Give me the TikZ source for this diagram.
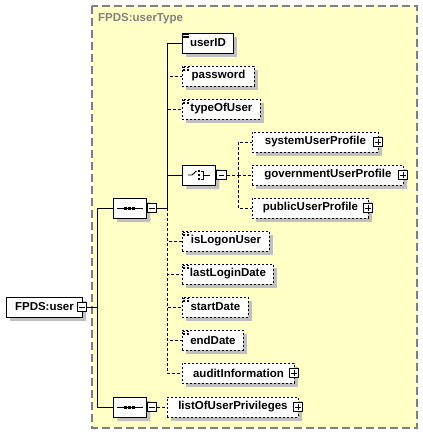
\documentclass[tikz,border=0pt]{standalone}
\usepackage{fontspec}
\setmainfont{Liberation Sans}
\usetikzlibrary{shapes.misc}
\definecolor{typebg}{RGB}{255,255,198}
\definecolor{typeborder}{RGB}{128,128,128}
\definecolor{shade}{RGB}{192,192,192}
\begin{document}
\begin{tikzpicture}[x=1pt, y=-1pt,
    shadowed/.style={preaction={draw=none, fill=shade, transform canvas={xshift=4pt, yshift=-4pt}}},
    elem/.style={rectangle, draw, fill=white, line width=0.9pt, shadowed, anchor=west, minimum width=#1, minimum height=20pt, inner sep=0pt, font=\fontsize{11.5}{13}\selectfont\bfseries},
    optional/.style={dash pattern=on 2pt off 2pt},
    simple/.style={path picture={
        \draw[line width=0.7pt] ([xshift=1pt, yshift=-1.5pt]path picture bounding box.north west) -- ++(6,0);
        \draw[line width=0.7pt] ([xshift=1pt, yshift=-3pt]path picture bounding box.north west) -- ++(6,0);
        \draw[line width=0.7pt] ([xshift=1pt, yshift=-4.5pt]path picture bounding box.north west) -- ++(6,0);}},
    compositor/.style={chamfered rectangle, chamfered rectangle angle=45, chamfered rectangle xsep=5.5pt, draw, fill=white, line width=0.9pt, shadowed, anchor=west, minimum width=33pt, minimum height=20pt, inner sep=0pt},
    pmbox/.style={rectangle, draw, fill=white, line width=0.9pt, minimum size=9.5pt, inner sep=0pt},
    minus/.style={pmbox, path picture={\draw[line width=0.8pt] ([xshift=2pt]path picture bounding box.west) -- ([xshift=-2pt]path picture bounding box.east);}},
    plus/.style={pmbox, path picture={
        \draw[line width=0.8pt] ([xshift=2pt]path picture bounding box.west) -- ([xshift=-2pt]path picture bounding box.east);
        \draw[line width=0.8pt] ([yshift=-2pt]path picture bounding box.north) -- ([yshift=2pt]path picture bounding box.south);}},
    link/.style={line width=0.9pt},
    optlink/.style={link, dash pattern=on 3pt off 2pt}
]
\useasboundingbox[fill=white] (0,0) rectangle (423,434);

% complex type frame
\draw[typeborder, fill=typebg, line width=1.3pt, dash pattern=on 8pt off 4pt] (92,6) rectangle (417,428);
\node[anchor=west, inner sep=0pt, text=typeborder, font=\fontsize{11.5}{13}\selectfont\bfseries] (typeName) at (98,19) {FPDS:userType};

% root element
\node[elem=76pt] (user) at (6,307) {FPDS:user};
\node[minus] (userX) at ([xshift=-1pt]user.east) {};

% compositors
\node[compositor] (seqMain) at (113,208) {};
\node[minus] (seqMainX) at ([xshift=5pt]seqMain.east) {};
\draw[link] ([xshift=4pt]seqMain.west) -- ([xshift=-4pt]seqMain.east);
\fill ([xshift=-5.5pt, yshift=1.5pt]seqMain.center) rectangle ++(3,3);
\fill ([xshift=-1.5pt, yshift=1.5pt]seqMain.center) rectangle ++(3,3);
\fill ([xshift=2.5pt, yshift=1.5pt]seqMain.center) rectangle ++(3,3);

\node[compositor] (seqPriv) at (113,407) {};
\node[minus] (seqPrivX) at ([xshift=5pt]seqPriv.east) {};
\draw[link] ([xshift=4pt]seqPriv.west) -- ([xshift=-4pt]seqPriv.east);
\fill ([xshift=-5.5pt, yshift=1.5pt]seqPriv.center) rectangle ++(3,3);
\fill ([xshift=-1.5pt, yshift=1.5pt]seqPriv.center) rectangle ++(3,3);
\fill ([xshift=2.5pt, yshift=1.5pt]seqPriv.center) rectangle ++(3,3);

\node[compositor] (choice) at (182,175) {};
\node[minus] (choiceX) at ([xshift=5.5pt]choice.east) {};
\draw[link] ([xshift=-11pt]choice.center) -- ++(4,0) -- ++(4.5,-4);
\fill ([xshift=-1pt, yshift=5pt]choice.center) rectangle ++(2,2);
\fill ([xshift=-1pt, yshift=1pt]choice.center) rectangle ++(2,2);
\fill ([xshift=-1pt, yshift=-3pt]choice.center) rectangle ++(2,2);
\draw[link] ([xshift=2pt, yshift=4pt]choice.center) -- ++(2.5,0) -- ++(0,8) -- ++(-2.5,0);
\draw[link] ([xshift=4.5pt]choice.center) -- ++(6.5,0);

% child elements
\node[elem=51pt, simple] (userID) at (182,43) {userID};
\node[elem=72pt, optional, simple] (password) at (182,76) {password};
\node[elem=78pt, optional, simple] (typeOfUser) at (182,109) {typeOfUser};
\node[elem=126pt, optional] (sys) at (252,142) {systemUserProfile\hspace{6pt}};
\node[plus] (sysX) at ([xshift=-1pt]sys.east) {};
\node[elem=151pt, optional] (gov) at (252,175) {governmentUserProfile\hspace{6pt}};
\node[plus] (govX) at ([xshift=-1pt]gov.east) {};
\node[elem=116pt, optional] (pub) at (252,208) {publicUserProfile\hspace{6pt}};
\node[plus] (pubX) at ([xshift=-1pt]pub.east) {};
\node[elem=87pt, optional, simple] (isLogonUser) at (182,241) {isLogonUser};
\node[elem=91pt, optional, simple] (lastLoginDate) at (182,274) {lastLoginDate};
\node[elem=66pt, optional, simple] (startDate) at (182,307) {startDate};
\node[elem=61pt, optional, simple] (endDate) at (182,340) {endDate};
\node[elem=112pt, optional] (audit) at (182,373) {auditInformation\hspace{6pt}};
\node[plus] (auditX) at ([xshift=-1pt]audit.east) {};
\node[elem=131pt, optional] (privileges) at (167,407) {listOfUserPrivileges\hspace{6pt}};
\node[plus] (privilegesX) at ([xshift=-1pt]privileges.east) {};

% connectors
\coordinate (trunk) at (97,307);
\coordinate (spine) at (167,208);
\coordinate (fork) at (238,175);
\draw[link] (userX.east) -- (trunk);
\draw[link] (trunk) |- (seqMain.west);
\draw[link] (trunk) |- (seqPriv.west);
\draw[link] (seqMainX.east) -- (spine);
\draw[link] (spine) |- (userID.west);
\draw[link] (spine) |- (choice.west);
\draw[optlink] (spine) |- (password.west);
\draw[optlink] (spine) |- (typeOfUser.west);
\draw[optlink] (spine) |- (isLogonUser.west);
\draw[optlink] (spine) |- (lastLoginDate.west);
\draw[optlink] (spine) |- (startDate.west);
\draw[optlink] (spine) |- (endDate.west);
\draw[optlink] (spine) |- (audit.west);
\draw[optlink] (choiceX.east) -- (fork);
\draw[optlink] (fork) |- (sys.west);
\draw[optlink] (fork) |- (gov.west);
\draw[optlink] (fork) |- (pub.west);
\draw[optlink] (seqPrivX.east) -- (privileges.west);
\end{tikzpicture}
\end{document}
